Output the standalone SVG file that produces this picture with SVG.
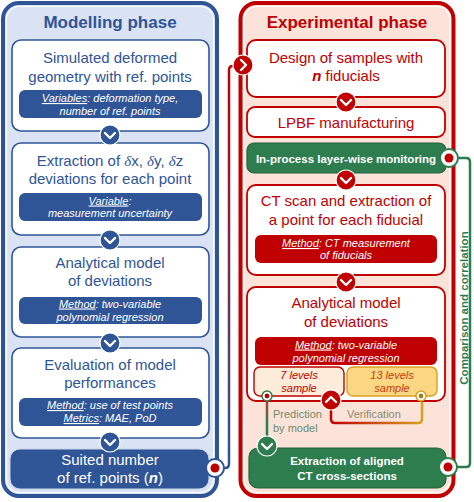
<svg xmlns="http://www.w3.org/2000/svg" width="474" height="502" viewBox="0 0 474 502">
<defs>
<style>
text{font-family:"Liberation Sans",Arial,sans-serif;text-anchor:middle}
.tb{fill:#2f5597;font-size:15px}
.tr{fill:#c00000;font-size:15px}
.tw{fill:#fff;font-size:15px}
.pill{fill:#fff;font-size:11px;font-style:italic}
.title{font-size:17px;font-weight:bold}
.bn{fill:#fff;stroke:#2f5597;stroke-width:1.6}
.rn{fill:#fff;stroke:#c00000;stroke-width:1.8}
.gn{fill:#2e7d4f;stroke:#23633d;stroke-width:1.2}
.gt{fill:#fff;font-size:11.5px;font-weight:bold}
.chev{fill:none;stroke:#fff;stroke-width:2.4;stroke-linecap:round;stroke-linejoin:round}
.u{text-decoration:underline}
.lbl{font-size:11px;text-anchor:start}
</style>
<linearGradient id="gLeft" gradientUnits="userSpaceOnUse" x1="0" y1="468" x2="0" y2="66">
<stop offset="0" stop-color="#2f5597"/><stop offset="1" stop-color="#c00000"/>
</linearGradient>
<linearGradient id="gPred" gradientUnits="userSpaceOnUse" x1="0" y1="400" x2="0" y2="440">
<stop offset="0" stop-color="#b0402f"/><stop offset="0.6" stop-color="#2e7d4f"/>
</linearGradient>
<linearGradient id="gVer" gradientUnits="userSpaceOnUse" x1="331" y1="0" x2="422" y2="0">
<stop offset="0" stop-color="#c00000"/><stop offset="1" stop-color="#d9a020"/>
</linearGradient>
</defs>

<g id="panel-modelling">
<rect x="3" y="3" width="214" height="493" rx="16" fill="#dae3f3" stroke="#2f5597" stroke-width="4"/>
<rect x="6.5" y="6.5" width="207" height="486" rx="13" fill="none" stroke="#fff" stroke-width="1.2"/>
<text x="110" y="28" class="title" fill="#2f5597">Modelling phase</text>
</g>

<g id="panel-experimental">
<rect x="240.5" y="3" width="213" height="493" rx="16" fill="#fbe3da" stroke="#c00000" stroke-width="4"/>
<rect x="244" y="6.5" width="206" height="486" rx="13" fill="none" stroke="#fff" stroke-width="1.2"/>
<text x="347" y="28" class="title" fill="#c00000">Experimental phase</text>
</g>

<g id="connectors">
<path d="M224 468 H225 Q229 468 229 464 V70 Q229 66 233 66 H236" fill="none" stroke="url(#gLeft)" stroke-width="2.5"/>
<path d="M458 158 H466 Q470 158 470 162 V463 Q470 467 466 467 H457" fill="none" stroke="#2e7d4f" stroke-width="2.5"/>
<path d="M267 401 V438" fill="none" stroke="url(#gPred)" stroke-width="2.5"/>
<path d="M331 408 V419 Q331 423 335 423 H418 Q422 423 422 419 V401" fill="none" stroke="url(#gVer)" stroke-width="2.5"/>
<text x="468" y="308" transform="rotate(-90 468 308)" font-size="11.5" font-weight="bold" fill="#2e7d4f">Comparison and correlation</text>
<text x="273" y="418" class="lbl" fill="#6f8a6c">Prediction</text>
<text x="273" y="432" class="lbl" fill="#6f8a6c">by model</text>
<text x="347" y="418" class="lbl" fill="#8a8a6a">Verification</text>
</g>

<!-- Modelling nodes -->
<g id="m1">
<rect x="12" y="40" width="197" height="91" rx="9" class="bn"/>
<text x="110" y="63" class="tb">Simulated deformed</text>
<text x="110" y="81.5" class="tb">geometry with ref. points</text>
<rect x="19" y="90" width="183" height="28" rx="6" fill="#2f5597"/>
<text x="110" y="102" class="pill"><tspan class="u">Variables</tspan>: deformation type,</text>
<text x="110" y="114.5" class="pill">number of ref. points</text>
</g>
<g id="m2">
<rect x="12" y="143" width="197" height="92" rx="9" class="bn"/>
<text x="110" y="166" class="tb">Extraction of <tspan font-family="'Liberation Serif',serif" font-style="italic">δ</tspan>x, <tspan font-family="'Liberation Serif',serif" font-style="italic">δ</tspan>y, <tspan font-family="'Liberation Serif',serif" font-style="italic">δ</tspan>z</text>
<text x="110" y="184" class="tb">deviations for each point</text>
<rect x="19" y="193" width="183" height="28" rx="6" fill="#2f5597"/>
<text x="110" y="204.5" class="pill"><tspan class="u">Variable</tspan>:</text>
<text x="110" y="217" class="pill">measurement uncertainty</text>
</g>
<g id="m3">
<rect x="12" y="247" width="197" height="90" rx="9" class="bn"/>
<text x="110" y="268" class="tb">Analytical model</text>
<text x="110" y="286" class="tb">of deviations</text>
<rect x="19" y="297" width="183" height="27" rx="6" fill="#2f5597"/>
<text x="110" y="307.5" class="pill"><tspan class="u">Method</tspan>: two-variable</text>
<text x="110" y="320.5" class="pill">polynomial regression</text>
</g>
<g id="m4">
<rect x="12" y="348" width="197" height="90" rx="9" class="bn"/>
<text x="110" y="370" class="tb">Evaluation of model</text>
<text x="110" y="388" class="tb">performances</text>
<rect x="19" y="398" width="183" height="28" rx="6" fill="#2f5597"/>
<text x="110" y="409" class="pill"><tspan class="u">Method</tspan>: use of test points</text>
<text x="110" y="422" class="pill"><tspan class="u">Metrics</tspan>: MAE, PoD</text>
</g>
<g id="m5">
<rect x="10" y="449" width="199" height="40" rx="10" fill="#2f5597" stroke="#c9d5ec" stroke-width="1"/>
<text x="110" y="465" class="tw">Suited number</text>
<text x="110" y="483" class="tw">of ref. points (<tspan font-weight="bold" font-style="italic">n</tspan>)</text>
<circle cx="215" cy="468" r="9" fill="#fff" stroke="#2f5597" stroke-width="2"/>
<circle cx="215" cy="468" r="4.5" fill="#c00000"/>
</g>

<g id="m-chevrons">
<circle cx="110" cy="135" r="10" fill="#2f5597" stroke="#fff" stroke-width="1.2"/>
<polyline points="105,133 110,138 115,133" class="chev"/>
<circle cx="110" cy="240" r="10" fill="#2f5597" stroke="#fff" stroke-width="1.2"/>
<polyline points="105,238 110,243 115,238" class="chev"/>
<circle cx="110" cy="343" r="10" fill="#2f5597" stroke="#fff" stroke-width="1.2"/>
<polyline points="105,341 110,346 115,341" class="chev"/>
<circle cx="110" cy="442" r="10" fill="#2f5597" stroke="#fff" stroke-width="1.2"/>
<polyline points="105,440 110,445 115,440" class="chev"/>
</g>

<!-- Experimental nodes -->
<g id="e1">
<rect x="247" y="40" width="198" height="57" rx="9" class="rn"/>
<text x="346" y="63" class="tr">Design of samples with</text>
<text x="346" y="81" class="tr"><tspan font-weight="bold" font-style="italic">n</tspan> fiducials</text>
</g>
<g id="e2">
<rect x="247" y="107" width="198" height="30" rx="8" class="rn"/>
<text x="346" y="128" class="tr">LPBF manufacturing</text>
</g>
<g id="e3">
<rect x="247" y="143" width="199" height="30" rx="7" class="gn"/>
<text x="346" y="162.5" class="gt" font-size="11">In-process layer-wise monitoring</text>
<circle cx="449" cy="158" r="9" fill="#fff" stroke="#2e7d4f" stroke-width="2"/>
<circle cx="449" cy="158" r="4.5" fill="#c00000"/>
</g>
<g id="e4">
<rect x="247" y="185" width="198" height="90" rx="9" class="rn"/>
<text x="346" y="206" class="tr">CT scan and extraction of</text>
<text x="346" y="225" class="tr">a point for each fiducial</text>
<rect x="255" y="235" width="182" height="28" rx="6" fill="#c00000"/>
<text x="346" y="247" class="pill"><tspan class="u">Method</tspan>: CT measurement</text>
<text x="346" y="259" class="pill">of fiducials</text>
</g>
<g id="e5">
<rect x="247" y="287" width="198" height="114" rx="9" class="rn"/>
<text x="346" y="308" class="tr">Analytical model</text>
<text x="346" y="327" class="tr">of deviations</text>
<rect x="255" y="337" width="182" height="28" rx="6" fill="#c00000"/>
<text x="346" y="348.5" class="pill"><tspan class="u">Method</tspan>: two-variable</text>
<text x="346" y="361.5" class="pill">polynomial regression</text>
</g>
<g id="e5a">
<rect x="254" y="367" width="90" height="29" rx="6" fill="#fdecd9" stroke="#c00000" stroke-width="1.4"/>
<text x="299" y="378.5" font-size="11" font-style="italic" fill="#c00000">7 levels</text>
<text x="299" y="391.5" font-size="11" font-style="italic" fill="#c00000">sample</text>
<circle cx="267" cy="396" r="5" fill="#fff" stroke="#2e7d4f" stroke-width="1.5"/>
<circle cx="267" cy="396" r="2.4" fill="#c00000"/>
</g>
<g id="e5b">
<rect x="347" y="367" width="90" height="29" rx="6" fill="#fcd783" stroke="#d9a020" stroke-width="1.4"/>
<text x="392" y="378.5" font-size="11" font-style="italic" fill="#c0400c">13 levels</text>
<text x="392" y="391.5" font-size="11" font-style="italic" fill="#c0400c">sample</text>
<circle cx="421" cy="396" r="5" fill="#fff" stroke="#d9a020" stroke-width="1.5"/>
<circle cx="421" cy="396" r="2.4" fill="#a08020"/>
</g>
<g id="e6">
<rect x="249" y="448" width="197" height="40" rx="9" class="gn"/>
<text x="347" y="465" class="gt">Extraction of aligned</text>
<text x="347" y="479.5" class="gt">CT cross-sections</text>
<circle cx="448" cy="467" r="9" fill="#fff" stroke="#2e7d4f" stroke-width="2"/>
<circle cx="448" cy="467" r="4.5" fill="#c00000"/>
</g>

<g id="e-chevrons">
<circle cx="243" cy="65" r="10" fill="#c00000" stroke="#fff" stroke-width="1.2"/>
<polyline points="241,60 246,65 241,70" class="chev"/>
<circle cx="346" cy="102" r="10" fill="#c00000" stroke="#fff" stroke-width="1.2"/>
<polyline points="341,100 346,105 351,100" class="chev"/>
<circle cx="346" cy="180" r="10" fill="#c00000" stroke="#fff" stroke-width="1.2"/>
<polyline points="341,178 346,183 351,178" class="chev"/>
<circle cx="346" cy="282" r="10" fill="#c00000" stroke="#fff" stroke-width="1.2"/>
<polyline points="341,280 346,285 351,280" class="chev"/>
<circle cx="331" cy="400" r="10" fill="#c00000" stroke="#fff" stroke-width="1.2"/>
<polyline points="326,402 331,397 336,402" class="chev"/>
<circle cx="267" cy="446" r="10" fill="#2e7d4f" stroke="#fff" stroke-width="1.2"/>
<polyline points="262,444 267,449 272,444" class="chev"/>
</g>
</svg>
